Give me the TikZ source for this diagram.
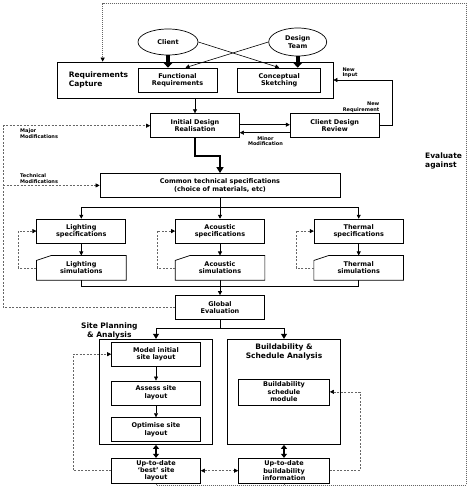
\documentclass[tikz,border=0pt]{standalone}
\usepackage{fontspec}
\setmainfont{DejaVu Sans}
\usepackage{tikz}
\usetikzlibrary{arrows.meta,positioning,shapes.geometric}

\begin{document}
\begin{tikzpicture}[
    x=1pt, y=-1pt,
    txt/.style={font=\fontsize{6.5}{7.4}\selectfont\bfseries},
    box/.style={draw, line width=0.7pt, minimum width=89pt, minimum height=24pt,
                inner sep=1pt, align=center, txt},
    simbox/.style={box, draw=none},
    ellip/.style={draw, ellipse, line width=0.7pt, minimum width=60pt, minimum height=26pt,
                  inner sep=0pt, align=center, txt},
    bigbox/.style={draw, line width=1pt, minimum width=113pt, minimum height=105pt},
    title/.style={font=\fontsize{7.5}{8.6}\selectfont\bfseries, inner sep=0pt, align=center},
    lbl/.style={font=\fontsize{5}{5.6}\selectfont\bfseries, inner sep=0pt, align=left},
    arr/.style={-{Triangle[length=4pt, width=4pt]}, line width=0.6pt},
    arrb/.style={-{Triangle[length=5pt, width=6pt]}, line width=0.9pt},
    fat/.style={-{Triangle[length=5pt, width=9pt]}, line width=4pt},
    thk/.style={-{Triangle[length=6pt, width=7pt]}, line width=1.5pt},
    dbl/.style={{Triangle[length=4pt, width=6pt]}-{Triangle[length=4pt, width=6pt]}, line width=1.2pt},
    fb/.style={draw=black!60, dash pattern=on 2pt off 1.5pt, line width=0.6pt,
               -{Triangle[length=4pt, width=4pt, color=black]}},
    fbdot/.style={draw=black!60, dash pattern=on 1pt off 1pt, line width=0.7pt},
]
\useasboundingbox (0,0) rectangle (474,487);

% --- Rails of the feedback loops ---
\coordinate (leftrail) at (3,0);
\coordinate (rightrail) at (466,0);
\coordinate (toprail) at (0,3);
\coordinate (botrail) at (0,485);

% --- Requirements capture ---
\node[ellip] (client) at (168,42) {Client};
\node[ellip, minimum width=58pt, minimum height=28pt, right=70pt of client] (team) {Design\\Team};
\node[draw, line width=0.7pt, minimum width=276pt, minimum height=36pt] (reqcap) at (195,80) {};
\node[title, anchor=west, align=left, right=12pt of reqcap.west] (reqlbl) {Requirements\\Capture};
\node[box, minimum width=79pt, right=81pt of reqcap.west] (funcreq) {Functional\\Requirements};
\node[box, minimum width=83pt, right=20pt of funcreq] (concept) {Conceptual\\Sketching};

% --- Design realisation ---
\node[box, below=15pt of reqcap] (initial) {Initial Design\\Realisation};
\node[box, right=50pt of initial] (review) {Client Design\\Review};
\node[box, minimum width=240pt, below=35pt of initial, xshift=25pt] (common)
    {Common technical specifications\\(choice of materials, etc)};

% --- Specifications and simulations ---
\node[box, below=21pt of common] (acspec) {Acoustic\\specifications};
\node[box, left=49pt of acspec] (lightspec) {Lighting\\specifications};
\node[box, right=49pt of acspec] (thspec) {Thermal\\specifications};
\node[simbox, below=12pt of lightspec] (lightsim) {Lighting\\simulations};
\node[simbox, below=12pt of acspec] (acsim) {Acoustic\\simulations};
\node[simbox, below=12pt of thspec] (thsim) {Thermal\\simulations};
\foreach \s in {lightsim,acsim,thsim}
    \draw[line width=0.7pt] (\s.south west) -- (\s.south east) -- (\s.north east)
        -- ([xshift=15pt]\s.north west) -- ([yshift=-5pt]\s.north west) -- cycle;
\node[box, below=15pt of acsim] (global) {Global\\Evaluation};

% --- Site planning and buildability ---
\node[bigbox, below left=19pt and 7pt of global.south] (sitebox) {};
\node[bigbox, right=14pt of sitebox] (buildbox) {};
\node[title, above right=0pt and -18pt of sitebox.north west] (sitelbl) {Site Planning\\\& Analysis};
\node[title, below=5pt of buildbox.north] (buildlbl) {Buildability \&\\Schedule Analysis};
\node[box, below=3pt of sitebox.north] (model) {Model initial\\site layout};
\node[box, below=14pt of model] (assess) {Assess site\\layout};
\node[box, below=12pt of assess] (optimise) {Optimise site\\layout};
\node[box, minimum width=91pt, minimum height=26pt] (schedule) at (buildbox) {Buildability\\schedule\\module};
\node[box, minimum height=25pt, below=13pt of sitebox] (bestsite) {Up-to-date\\`best' site\\layout};
\node[box, minimum width=91pt, minimum height=25pt, below=13pt of buildbox] (buildinfo) {Up-to-date\\buildability\\information};

% --- Labels ---
\node[title, anchor=west, align=left] (evallbl) at (425,161) {Evaluate\\against};
\node[lbl, above right=2pt and 9pt of reqcap.east] (inputlbl) {New\\Input};
\node[lbl, align=right, above left=1pt and 0pt of review.north east] (reqmtlbl) {New\\Requirement};
\node[lbl, align=center, below right=-2pt and 8pt of initial.south east] (minorlbl) {Minor\\Modification};
\coordinate (majorpt) at (initial.west -| leftrail);
\coordinate (techpt) at (common.west -| leftrail);
\node[lbl, below right=3pt and 17pt of majorpt] (majorlbl) {Major\\Modifications};
\node[lbl, above right=2pt and 17pt of techpt] (techlbl) {Technical\\Modifications};

% --- Arrows ---
\draw[fat] (client.south) -- (client.south |- funcreq.north);
\draw[fat] (team.south) -- (team.south |- concept.north);
\draw[arr] (client.east) -- (concept.north);
\draw[arr] (team.west) -- ([xshift=8pt]funcreq.north);
\draw[arr] (reqcap.south) -- (initial.north);
\draw[arr] ([yshift=1pt]initial.east) -- ([yshift=1pt]review.west);
\draw[arr] ([yshift=-7pt]review.west) -- ([yshift=-7pt]initial.east);
\draw[arr] (review.east) -- ++(13,0) |- (reqcap.east);
\draw[thk] (initial.south) -- ++(0,18) -| (common.north);

\draw[line width=0.6pt] (common.south) -- ++(0,10) coordinate (split);
\draw[arr] (split) -| (lightspec.north);
\draw[arr] (split) -- (acspec.north);
\draw[arr] (split) -| (thspec.north);
\draw[arr] (lightspec) -- (lightsim);
\draw[arr] (acspec) -- (acsim);
\draw[arr] (thspec) -- (thsim);
\draw[line width=0.6pt] (lightsim.south) -- ++(0,6) -| (thsim.south);
\draw[arr] (acsim.south) -- (global.north);

\draw[line width=0.9pt] (global.south) -- ++(0,9) coordinate (split2);
\draw[arrb] (split2) -| (sitebox.north);
\draw[arrb] (split2) -| (buildbox.north);
\draw[arr] (model) -- (assess);
\draw[arr] (assess) -- (optimise);
\draw[dbl] (sitebox.south) -- (bestsite.north);
\draw[dbl] (buildbox.south) -- (buildinfo.north);

% --- Feedback loops ---
\draw[fb] (lightsim.west) -- ++(-18,0) |- (lightspec.west);
\draw[fb] (acsim.west) -- ++(-18,0) |- (acspec.west);
\draw[fb] (thsim.west) -- ++(-18,0) |- (thspec.west);
\draw[fb] (global.west) -- (global.west -| leftrail) |- (initial.west);
\draw[fb] (techpt) -- (common.west);
\draw[fb, {Triangle[length=4pt, width=4pt, color=black]}-{Triangle[length=4pt, width=4pt, color=black]}]
    (bestsite.east) -- (buildinfo.west);
\draw[fb] (bestsite.west) -- ++(-38,0) |- (model.west);
\draw[fb] (buildinfo.east) -- ++(30,0) |- (schedule.east);
\draw[fbdot, -{Triangle[length=4pt, width=4pt, color=black]}] (bestsite.south) |- (rightrail |- botrail)
    -- (rightrail |- toprail) -| ([xshift=46pt]reqcap.north west);
\draw[fbdot] (buildinfo.south) -- (buildinfo.south |- botrail);

\end{tikzpicture}
\end{document}
